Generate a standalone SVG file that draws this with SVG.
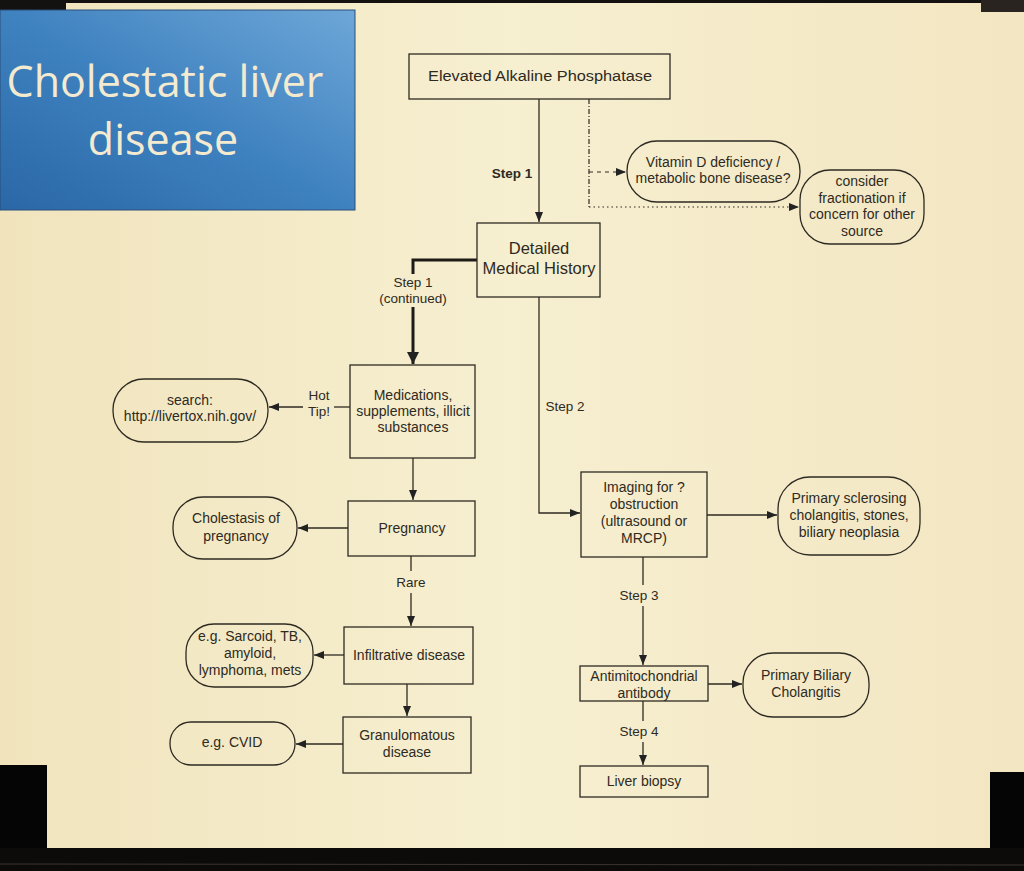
<svg xmlns="http://www.w3.org/2000/svg" width="1024" height="871" viewBox="0 0 1024 871">
<defs>
<linearGradient id="bg" x1="0" y1="0" x2="1" y2="0">
<stop offset="0" stop-color="#f1e4bd"/>
<stop offset="0.5" stop-color="#f6efd0"/>
<stop offset="1" stop-color="#f3e6c2"/>
</linearGradient>
<linearGradient id="blue" x1="1" y1="0" x2="0" y2="1">
<stop offset="0" stop-color="#6ea7d8"/>
<stop offset="0.5" stop-color="#3f82c0"/>
<stop offset="1" stop-color="#2a67a6"/>
</linearGradient>
<marker id="ah" viewBox="0 0 10 10" refX="10" refY="5" markerWidth="10" markerHeight="10" markerUnits="userSpaceOnUse" orient="auto">
<path d="M0,1 L10,5 L0,9 Z" fill="#222"/>
</marker>
<marker id="ahb" viewBox="0 0 10 10" refX="10" refY="5" markerWidth="12" markerHeight="14" markerUnits="userSpaceOnUse" orient="auto">
<path d="M0,0 L10,5 L0,10 Z" fill="#222"/>
</marker>
</defs>
<style>
.box{fill:none;stroke:#2e2a22;stroke-width:1.3}
.pill{fill:none;stroke:#2e2a22;stroke-width:1.3}
.t{font-family:"Liberation Sans",Arial,sans-serif;font-size:14px;fill:#2e2a22;text-anchor:middle}
.tl{font-family:"Liberation Sans",Arial,sans-serif;font-size:16.5px;fill:#2e2a22;text-anchor:middle}
.c{fill:none;stroke:#2e2a22;stroke-width:1.3}
.lbl{font-family:"Liberation Sans",Arial,sans-serif;font-size:13.5px;fill:#2e2a22;text-anchor:middle}
</style>
<rect width="1024" height="871" fill="#141210"/>
<rect x="0" y="3" width="1024" height="845" fill="url(#bg)"/>
<rect x="0" y="0" width="66" height="11" fill="#141210"/>
<rect x="981" y="0" width="43" height="12" fill="#2a2420"/>
<rect x="0" y="765" width="47" height="90" fill="#060505"/>
<rect x="990" y="772" width="34" height="90" fill="#060505"/>
<rect x="0" y="848" width="1024" height="23" fill="#0d0b0a"/>
<line x1="0" y1="864" x2="1024" y2="865" stroke="#3a3530" stroke-width="1"/>

<g id="title">
<rect x="0" y="10" width="355" height="200" fill="url(#blue)" stroke="#2a4f7a" stroke-width="1"/>
<text x="165" y="97" font-family="'Open Sans','Liberation Sans',sans-serif" font-size="43" fill="#f3ead0" text-anchor="middle">Cholestatic liver</text>
<text x="163" y="155" font-family="'Open Sans','Liberation Sans',sans-serif" font-size="43" fill="#f3ead0" text-anchor="middle">disease</text>
</g>

<g id="connectors">
<line class="c" x1="539" y1="99" x2="539" y2="222" marker-end="url(#ah)"/>
<text class="lbl" x="512" y="178" font-weight="bold">Step 1</text>
<line x1="589" y1="99" x2="589" y2="207" stroke="#2e2a22" stroke-width="1.2" stroke-dasharray="5,2,1,2"/>
<line x1="589" y1="172" x2="626" y2="172" stroke="#2e2a22" stroke-width="1.2" stroke-dasharray="4,4" marker-end="url(#ah)"/>
<line x1="589" y1="207" x2="799" y2="207" stroke="#2e2a22" stroke-width="1.2" stroke-dasharray="1.5,3" marker-end="url(#ah)"/>
<polyline points="477,260 413,260 413,274" fill="none" stroke="#1e1b16" stroke-width="3"/>
<line x1="413" y1="307" x2="413" y2="364" stroke="#1e1b16" stroke-width="3" marker-end="url(#ahb)"/>
<text class="lbl" x="413" y="287">Step 1</text>
<text class="lbl" x="413" y="303">(continued)</text>
<polyline class="c" points="539,297 539,513 580,513" marker-end="url(#ah)"/>
<text class="lbl" x="565" y="411">Step 2</text>
<line class="c" x1="350" y1="407" x2="334" y2="407"/>
<line class="c" x1="303" y1="407" x2="269" y2="407" marker-end="url(#ah)"/>
<text class="lbl" x="319" y="400">Hot</text>
<text class="lbl" x="319" y="416">Tip!</text>
<line class="c" x1="413" y1="458" x2="413" y2="500" marker-end="url(#ah)"/>
<line class="c" x1="348" y1="528" x2="298" y2="528" marker-end="url(#ah)"/>
<line class="c" x1="411" y1="556" x2="411" y2="571"/>
<line class="c" x1="411" y1="593" x2="411" y2="626" marker-end="url(#ah)"/>
<text class="lbl" x="411" y="587">Rare</text>
<line class="c" x1="344" y1="655" x2="314" y2="655" marker-end="url(#ah)"/>
<line class="c" x1="407" y1="684" x2="407" y2="716" marker-end="url(#ah)"/>
<line class="c" x1="343" y1="744" x2="296" y2="744" marker-end="url(#ah)"/>
<line class="c" x1="707" y1="515" x2="777" y2="515" marker-end="url(#ah)"/>
<line class="c" x1="643" y1="557" x2="643" y2="585"/>
<line class="c" x1="643" y1="606" x2="643" y2="665" marker-end="url(#ah)"/>
<text class="lbl" x="639" y="600">Step 3</text>
<line class="c" x1="708" y1="684" x2="742" y2="684" marker-end="url(#ah)"/>
<line class="c" x1="643" y1="701" x2="643" y2="721"/>
<line class="c" x1="643" y1="742" x2="643" y2="765" marker-end="url(#ah)"/>
<text class="lbl" x="639" y="736">Step 4</text>
</g>

<g id="n-alp">
<rect class="box" x="409" y="54" width="261" height="45"/>
<text class="t" x="540" y="81" font-size="16.5" textLength="224" lengthAdjust="spacingAndGlyphs">Elevated Alkaline Phosphatase</text>
</g>
<g id="n-history">
<rect class="box" x="477" y="223" width="123" height="74"/>
<text class="tl" x="539" y="254">Detailed</text>
<text class="tl" x="539" y="274">Medical History</text>
</g>
<g id="n-vitd">
<rect class="pill" x="627" y="141" width="173" height="61" rx="30"/>
<text class="t" x="713" y="167">Vitamin D deficiency /</text>
<text class="t" x="713" y="183">metabolic bone disease?</text>
</g>
<g id="n-fraction">
<rect class="pill" x="800" y="170" width="124" height="74" rx="30"/>
<text class="t" x="862" y="186">consider</text>
<text class="t" x="862" y="203">fractionation if</text>
<text class="t" x="862" y="219">concern for other</text>
<text class="t" x="862" y="236">source</text>
</g>
<g id="n-meds">
<rect class="box" x="350" y="365" width="125" height="93"/>
<text class="t" x="413" y="400">Medications,</text>
<text class="t" x="413" y="416">supplements, illicit</text>
<text class="t" x="413" y="432">substances</text>
</g>
<g id="n-livertox">
<rect class="pill" x="113" y="379" width="155" height="63" rx="31"/>
<text class="t" x="190" y="405">search:</text>
<text class="t" x="190" y="421">http://livertox.nih.gov/</text>
</g>
<g id="n-pregnancy">
<rect class="box" x="348" y="501" width="127" height="55"/>
<text class="t" x="412" y="533">Pregnancy</text>
</g>
<g id="n-cholestasis">
<rect class="pill" x="173" y="497" width="124" height="62" rx="30"/>
<text class="t" x="236" y="523">Cholestasis of</text>
<text class="t" x="236" y="541">pregnancy</text>
</g>
<g id="n-infiltrative">
<rect class="box" x="344" y="627" width="129" height="57"/>
<text class="t" x="409" y="660">Infiltrative disease</text>
</g>
<g id="n-sarcoid">
<rect class="pill" x="186" y="624" width="127" height="63" rx="28"/>
<text class="t" x="250" y="641">e.g. Sarcoid, TB,</text>
<text class="t" x="250" y="658">amyloid,</text>
<text class="t" x="250" y="675">lymphoma, mets</text>
</g>
<g id="n-granulomatous">
<rect class="box" x="343" y="717" width="128" height="56"/>
<text class="t" x="407" y="740">Granulomatous</text>
<text class="t" x="407" y="757">disease</text>
</g>
<g id="n-cvid">
<rect class="pill" x="170" y="722" width="125" height="43" rx="21"/>
<text class="t" x="232" y="747">e.g. CVID</text>
</g>
<g id="n-imaging">
<rect class="box" x="581" y="472" width="126" height="85"/>
<text class="t" x="644" y="492">Imaging for ?</text>
<text class="t" x="644" y="509">obstruction</text>
<text class="t" x="644" y="526">(ultrasound or</text>
<text class="t" x="644" y="543">MRCP)</text>
</g>
<g id="n-psc">
<rect class="pill" x="778" y="477" width="142" height="78" rx="32"/>
<text class="t" x="849" y="503">Primary sclerosing</text>
<text class="t" x="849" y="520">cholangitis, stones,</text>
<text class="t" x="849" y="537">biliary neoplasia</text>
</g>
<g id="n-ama">
<rect class="box" x="580" y="666" width="128" height="35"/>
<text class="t" x="644" y="681">Antimitochondrial</text>
<text class="t" x="644" y="698">antibody</text>
</g>
<g id="n-pbc">
<rect class="pill" x="743" y="653" width="126" height="64" rx="30"/>
<text class="t" x="806" y="680">Primary Biliary</text>
<text class="t" x="806" y="697">Cholangitis</text>
</g>
<g id="n-biopsy">
<rect class="box" x="580" y="766" width="128" height="31"/>
<text class="t" x="644" y="786">Liver biopsy</text>
</g>
</svg>
